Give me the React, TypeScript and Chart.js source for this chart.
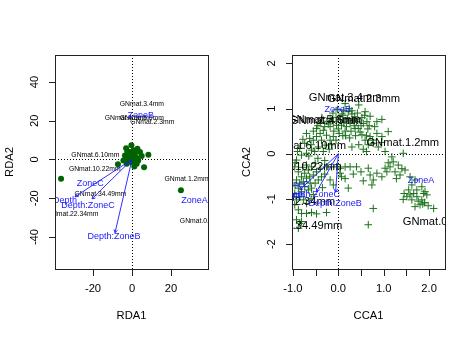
import { useEffect, useRef } from "react";
import { Chart, registerables } from "chart.js";
Chart.register(...registerables);

// ---------- Left panel: RDA ----------
const rdaSiteX = [-36.4, 25.1, 6.2, 8.4, -7.2, -3.0, -0.3, 2.8, 5.0, 1.8, -3.6, -4.4, -1.9, 0.7, 3.2, -1.0, 1.5, 4.1, -2.7, -0.2, 2.4, 1.2, -1.2, 0.3, 2.2, -2.4, 0.8];
const rdaSiteY = [-10.0, -15.9, -4.0, 2.5, -2.4, 5.8, 7.4, 5.5, 1.8, -2.0, 2.0, -0.5, 0.3, 1.2, -0.5, 3.8, 3.2, 3.8, -2.2, -1.4, -2.2, -3.6, 1.8, -0.3, 1.0, 4.3, 4.8];

const speciesNames = ["GNmat.3.4mm", "GNmat.2.3mm", "GNmat.4.5mm", "GNmat.5.6mm", "GNmat.6.10mm", "GNmat.10.22mm", "GNmat.22.34mm", "GNmat.34.49mm", "GNmat.1.2mm", "GNmat.0.1mm"];
const rdaSpeciesX = [5.1, 10.4, -2.6, 5.0, -18.8, -19.1, -30.5, -16.2, 28.0, 35.9];
const rdaSpeciesY = [28.8, 19.1, 21.2, 21.2, 2.4, -5.2, -28.4, -17.9, -10.0, -31.9];

const arrowNames = ["Depth", "Depth:ZoneC", "Depth:ZoneB"];
const rdaArrowX = [-29.2, -20.5, -8.7];
const rdaArrowY = [-19.2, -20.3, -37.8];
const rdaArrowLabelX = [-34.4, -22.6, -9.2];
const rdaArrowLabelY = [-21.3, -23.9, -39.8];

const centroidNames = ["ZoneA", "ZoneB", "ZoneC"];
const rdaCentroidX = [32.1, 4.5, -21.4];
const rdaCentroidY = [-21.3, 22.9, -12.6];

const rdaXTicks = [-20, 0, 20];
const rdaXTickLabels = ["-20", "0", "20"];
const rdaYTicks = [-40, -20, 0, 20, 40];
const rdaYTickLabels = ["-40", "-20", "0", "20", "40"];

// ---------- Right panel: CCA ----------
const ccaSiteX = [
  0.15, 0.45, 0.12, 0.22, 0.10, 0.30, 0.59, 0.70, 0.96, 0.85, -0.18, -0.11, -0.40, -0.48, -0.33, -0.18, -0.04, 0.07, 0.18, 0.26, 0.37, 0.44, 0.33, 0.40, 0.55, 0.63, 0.05, 0.20, -0.05, 0.28, 0.50, 0.15, -0.25, 0.00, 0.35, 0.48,
  1.10, 0.85, 0.96, 0.70, 0.59, 0.77, 0.88, 0.62, 0.75, 0.52, 0.66, 0.95, 1.03,
  -0.70, -0.63, -0.74, -0.85, -0.55, -0.48, -0.37, -0.26, -0.18, -0.11, -0.29, -0.44, -0.59, -0.70, -0.81, -0.92, -0.60, -0.40, -0.15, -0.05, -0.52, -0.33, -0.20, -0.65, -0.78, -0.90,
  1.18, 1.21, 1.43, 1.32, 1.14, 1.07, 1.25, 1.36, 1.47, 1.58, 1.69, 1.28, 1.40, 1.10,
  1.62, 1.73, 1.84, 1.51, 1.43, 1.62, 1.73, 1.84, 1.88, 1.91, 1.95, 1.80, 1.86, 2.10, 1.69, 1.58, 1.55, 1.76, 1.90, 1.66, 1.45, 1.98,
  -0.26, -0.15, -0.04, 0.04, 0.15, 0.26, 0.40, 0.04, 0.07, 0.22, -0.18, -0.11, 0.70, 0.77, 0.74, 0.85, 0.66, 0.96, 1.03, 0.77, 0.66, 0.50, 0.33, 0.55, -0.30, 0.15,
  -0.96, -0.88, -0.81, -0.74, -0.66, -0.59, -0.51, -0.92, -0.85, -0.77, -0.70, -0.63, -0.55, -0.48, -0.40, -0.88, -0.81, -0.96, -0.74, -0.66, -0.59, -0.51, -0.44, -0.37, -0.99, -0.92, -0.85, -0.77, -0.96, -0.88, -0.81, -0.70, -0.59, -0.48, -0.26, -0.92, -0.85, -0.88, -0.81, -0.95, -0.70, -0.45, -0.30, -0.62, -0.78, -0.55, -0.70, -0.95, -0.35, -0.60,
  0.02, 0.10, 0.25, 0.38, -0.10, 0.30, 0.52, 0.42, -0.30, -0.55, 0.65, 0.80, 0.12, -0.12, 0.62, 0.45, 0.55, 0.30,
  -0.45, -0.22, 0.08, 0.36, 0.58, -0.02, 0.24, -0.36, 0.68, 0.16,
];
const ccaSiteY = [
  1.11, 1.08, 0.96, 0.93, 0.85, 0.88, 0.93, 0.83, 0.76, 0.71, 0.78, 0.71, 0.67, 0.56, 0.52, 0.60, 0.63, 0.63, 0.60, 0.67, 0.56, 0.56, 0.74, 0.71, 0.67, 0.71, 0.75, 0.78, 0.80, 0.50, 0.62, 0.50, 0.72, 0.55, 0.62, 0.48,
  0.49, 0.45, 0.38, 0.38, 0.30, 0.23, 0.15, 0.40, 0.30, 0.42, 0.20, 0.25, 0.05,
  0.45, 0.34, 0.23, 0.12, 0.30, 0.38, 0.30, 0.41, 0.30, 0.38, 0.19, 0.15, 0.08, 0.01, -0.03, -0.14, 0.20, 0.45, 0.20, 0.30, 0.05, 0.05, 0.10, -0.05, 0.32, 0.05,
  -0.07, -0.18, 0.01, -0.25, -0.29, -0.40, -0.40, -0.47, -0.36, -0.51, -0.58, -0.55, -0.33, -0.20,
  -0.69, -0.80, -0.73, -0.95, -1.01, -1.02, -0.95, -1.02, -0.88, -0.84, -0.91, -1.13, -1.11, -1.21, -1.17, -0.91, -0.80, -1.05, -1.08, -0.88, -0.88, -1.15,
  -0.29, -0.29, -0.29, -0.32, -0.29, -0.29, -0.29, -0.43, -0.51, -0.76, -0.58, -0.69, -0.47, -0.58, -0.69, -0.43, -0.32, -0.51, -0.32, -1.21, -1.57, -0.40, -0.45, -0.60, -0.45, -0.55,
  -0.29, -0.40, -0.51, -0.43, -0.36, -0.29, -0.21, -0.58, -0.65, -0.62, -0.54, -0.51, -0.47, -0.40, -0.32, -0.76, -0.84, -0.88, -0.73, -0.80, -0.76, -0.65, -0.58, -0.51, -0.95, -1.02, -0.95, -1.02, -1.13, -1.24, -1.32, -1.32, -1.30, -1.33, -1.30, -1.46, -1.54, -1.65, -1.50, -0.20, -0.25, -0.10, -0.15, -0.65, -0.30, -0.90, -1.10, -0.70, -0.75, -1.00,
  0.45, 0.40, 0.35, 0.40, 0.50, 0.95, 0.80, 0.90, 0.60, 0.50, 0.55, 0.60, 0.70, 0.90, 0.05, 0.20, 0.10, 0.15,
  0.62, 0.66, 0.88, 0.82, 0.85, 0.98, 1.00, 0.80, 0.62, 0.40,
];

const ccaSpeciesX = [0.15, 0.56, -0.27, -0.31, -0.70, -0.86, -1.01, -0.85, 1.42, 2.22];
const ccaSpeciesY = [1.23, 1.21, 0.73, 0.74, 0.18, -0.30, -1.06, -1.59, 0.25, -1.50];

const ccaArrowX = [-0.85, -0.48, -0.06];
const ccaArrowY = [-0.80, -0.84, -0.85];
const ccaArrowLabelX = [-1.0, -0.55, -0.07];
const ccaArrowLabelY = [-0.93, -0.91, -1.11];

const ccaCentroidX = [1.82, -0.01, -0.93];
const ccaCentroidY = [-0.60, 0.98, -0.67];

const ccaXTicks = [-1, -0.5, 0, 0.5, 1, 1.5, 2];
const ccaXTickLabels = ["-1.0", "", "0.0", "", "1.0", "", "2.0"];
const ccaYTicks = [-2, -1, 0, 1, 2];
const ccaYTickLabels = ["-2", "-1", "0", "1", "2"];

const FONT = '"Liberation Sans", Arial, Helvetica, sans-serif';
const BLUE = "#1a1aff";
const GREEN = "#006400";
const PLUS_GREEN = "#1d731d";

type PanelCfg = {
  xMin: number; xMax: number; yMin: number; yMax: number;
  siteX: number[]; siteY: number[]; siteStyle: "circle" | "cross";
  spX: number[]; spY: number[]; spSize: number;
  arX: number[]; arY: number[]; arLX: number[]; arLY: number[];
  ceX: number[]; ceY: number[];
  xTicks: number[]; xTickLabels: string[]; yTicks: number[]; yTickLabels: string[];
  xTitle: string; yTitle: string;
};

const leftCfg: PanelCfg = {
  xMin: -39.5, xMax: 39.0, yMin: -56.5, yMax: 53.9,
  siteX: rdaSiteX, siteY: rdaSiteY, siteStyle: "circle",
  spX: rdaSpeciesX, spY: rdaSpeciesY, spSize: 6.8,
  arX: rdaArrowX, arY: rdaArrowY, arLX: rdaArrowLabelX, arLY: rdaArrowLabelY,
  ceX: rdaCentroidX, ceY: rdaCentroidY,
  xTicks: rdaXTicks, xTickLabels: rdaXTickLabels, yTicks: rdaYTicks, yTickLabels: rdaYTickLabels,
  xTitle: "RDA1", yTitle: "RDA2",
};

const rightCfg: PanelCfg = {
  xMin: -1.02, xMax: 2.35, yMin: -2.55, yMax: 2.185,
  siteX: ccaSiteX, siteY: ccaSiteY, siteStyle: "cross",
  spX: ccaSpeciesX, spY: ccaSpeciesY, spSize: 11.2,
  arX: ccaArrowX, arY: ccaArrowY, arLX: ccaArrowLabelX, arLY: ccaArrowLabelY,
  ceX: ccaCentroidX, ceY: ccaCentroidY,
  xTicks: ccaXTicks, xTickLabels: ccaXTickLabels, yTicks: ccaYTicks, yTickLabels: ccaYTickLabels,
  xTitle: "CCA1", yTitle: "CCA2",
};

function makeOverlay(cfg: PanelCfg) {
  const clip = (chart: any) => {
    const a = chart.chartArea;
    const ctx = chart.ctx;
    ctx.beginPath();
    ctx.rect(a.left, a.top, a.right - a.left, a.bottom - a.top);
    ctx.clip();
  };
  return {
    id: "ordiOverlay",
    beforeDatasetsDraw(chart: any) {
      const ctx = chart.ctx;
      const xs = chart.scales.x, ys = chart.scales.y;
      const a = chart.chartArea;
      ctx.save();
      clip(chart);
      ctx.strokeStyle = "#000";
      ctx.lineWidth = 1;
      ctx.setLineDash([1, 2]);
      const x0 = Math.round(xs.getPixelForValue(0)) + 0.5;
      const y0 = Math.round(ys.getPixelForValue(0)) + 0.5;
      ctx.beginPath();
      ctx.moveTo(x0, a.top); ctx.lineTo(x0, a.bottom);
      ctx.moveTo(a.left, y0); ctx.lineTo(a.right, y0);
      ctx.stroke();
      ctx.restore();
    },
    afterDatasetsDraw(chart: any) {
      const ctx = chart.ctx;
      const xs = chart.scales.x, ys = chart.scales.y;
      ctx.save();
      clip(chart);
      ctx.textAlign = "center";
      ctx.textBaseline = "middle";
      ctx.fillStyle = "#000";
      ctx.font = `${cfg.spSize}px ${FONT}`;
      speciesNames.forEach((n, i) => {
        ctx.fillText(n, xs.getPixelForValue(cfg.spX[i]), ys.getPixelForValue(cfg.spY[i]));
      });
      const ox = xs.getPixelForValue(0), oy = ys.getPixelForValue(0);
      ctx.strokeStyle = BLUE;
      ctx.lineWidth = 0.9;
      cfg.arX.forEach((v, i) => {
        const tx = xs.getPixelForValue(v), ty = ys.getPixelForValue(cfg.arY[i]);
        const ang = Math.atan2(ty - oy, tx - ox);
        const L = 3.6, th = Math.PI / 6;
        ctx.beginPath();
        ctx.moveTo(ox, oy); ctx.lineTo(tx, ty);
        ctx.moveTo(tx - L * Math.cos(ang - th), ty - L * Math.sin(ang - th));
        ctx.lineTo(tx, ty);
        ctx.lineTo(tx - L * Math.cos(ang + th), ty - L * Math.sin(ang + th));
        ctx.stroke();
      });
      ctx.fillStyle = BLUE;
      ctx.font = `9px ${FONT}`;
      arrowNames.forEach((n, i) => {
        ctx.fillText(n, xs.getPixelForValue(cfg.arLX[i]), ys.getPixelForValue(cfg.arLY[i]));
      });
      centroidNames.forEach((n, i) => {
        ctx.fillText(n, xs.getPixelForValue(cfg.ceX[i]), ys.getPixelForValue(cfg.ceY[i]));
      });
      ctx.restore();
    },
    afterDraw(chart: any) {
      const ctx = chart.ctx;
      const xs = chart.scales.x, ys = chart.scales.y;
      const a = chart.chartArea;
      ctx.save();
      ctx.strokeStyle = "#222";
      ctx.fillStyle = "#000";
      ctx.lineWidth = 1;
      ctx.setLineDash([]);
      const L = Math.round(a.left) + 0.5, R = Math.round(a.right) + 0.5;
      const T = Math.round(a.top) + 0.5, B = Math.round(a.bottom) + 0.5;
      ctx.strokeRect(L, T, R - L, B - T);
      const tick = 6.5;
      ctx.beginPath();
      cfg.xTicks.forEach((v) => {
        const px = Math.round(xs.getPixelForValue(v)) + 0.5;
        ctx.moveTo(px, B); ctx.lineTo(px, B + tick);
      });
      cfg.yTicks.forEach((v) => {
        const py = Math.round(ys.getPixelForValue(v)) + 0.5;
        ctx.moveTo(L, py); ctx.lineTo(L - tick, py);
      });
      ctx.stroke();
      ctx.font = `11.2px ${FONT}`;
      ctx.textAlign = "center";
      ctx.textBaseline = "middle";
      cfg.xTicks.forEach((v, i) => {
        ctx.fillText(cfg.xTickLabels[i], xs.getPixelForValue(v), a.bottom + 20);
      });
      cfg.yTicks.forEach((v, i) => {
        ctx.save();
        ctx.translate(a.left - 20, ys.getPixelForValue(v));
        ctx.rotate(-Math.PI / 2);
        ctx.fillText(cfg.yTickLabels[i], 0, 0);
        ctx.restore();
      });
      ctx.fillText(cfg.xTitle, (a.left + a.right) / 2, a.bottom + 47);
      ctx.save();
      ctx.translate(a.left - 45, (a.top + a.bottom) / 2);
      ctx.rotate(-Math.PI / 2);
      ctx.fillText(cfg.yTitle, 0, 0);
      ctx.restore();
      ctx.restore();
    },
  };
}

function Panel({ cfg }: { cfg: PanelCfg }) {
  const ref = useRef<HTMLCanvasElement>(null);
  useEffect(() => {
    const pts = cfg.siteX.map((x, i) => ({ x, y: cfg.siteY[i] }));
    const isCircle = cfg.siteStyle === "circle";
    const chart = new Chart(ref.current!, {
      type: "scatter",
      data: {
        datasets: [
          {
            data: pts,
            pointStyle: cfg.siteStyle,
            pointRadius: isCircle ? 3 : 3.8,
            backgroundColor: isCircle ? GREEN : PLUS_GREEN,
            borderColor: isCircle ? GREEN : PLUS_GREEN,
            borderWidth: isCircle ? 0 : 1,
          } as any,
        ],
      },
      options: {
        responsive: false,
        animation: false,
        devicePixelRatio: 1,
        layout: { padding: { left: 55, right: 29, top: 55, bottom: 69 } },
        plugins: { legend: { display: false }, tooltip: { enabled: false } },
        events: [],
        scales: {
          x: { type: "linear", min: cfg.xMin, max: cfg.xMax, display: false },
          y: { type: "linear", min: cfg.yMin, max: cfg.yMax, display: false },
        },
      },
      plugins: [makeOverlay(cfg)],
    });
    return () => chart.destroy();
  }, [cfg]);
  return <canvas ref={ref} width={237} height={338} style={{ display: "block", width: 237, height: 338 }} />;
}

export default function App() {
  return (
    <div style={{ position: "fixed", left: 0, top: 0, width: 474, height: 338, background: "#fff", display: "flex" }}>
      <Panel cfg={leftCfg} />
      <Panel cfg={rightCfg} />
    </div>
  );
}
